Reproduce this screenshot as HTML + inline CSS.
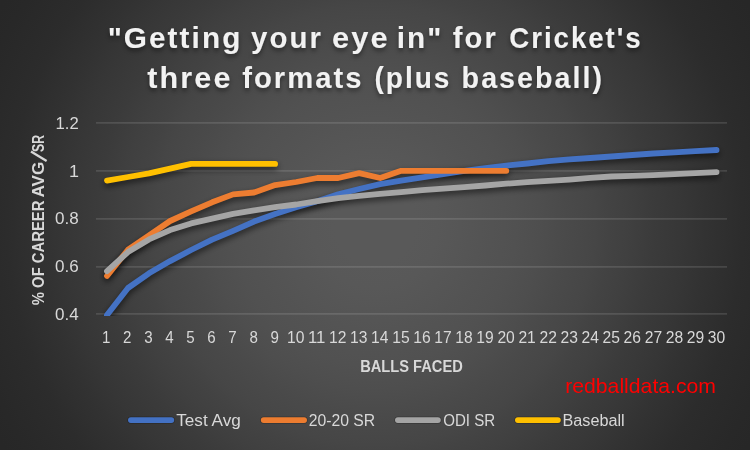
<!DOCTYPE html>
<html><head><meta charset="utf-8"><title>Getting your eye in</title>
<style>
html,body{margin:0;padding:0;background:#262626;}
body{width:750px;height:450px;overflow:hidden;font-family:"Liberation Sans",sans-serif;}
svg{display:block;font-family:"Liberation Sans",sans-serif;}
.ser{fill:none;stroke-linecap:round;stroke-linejoin:round;stroke-width:5.8;}
</style></head><body>
<svg width="750" height="450" viewBox="0 0 750 450">
<defs>
<radialGradient id="bg" gradientUnits="userSpaceOnUse" cx="375" cy="225" r="437.3">
<stop offset="0.0000" stop-color="#595959"/>
<stop offset="0.0915" stop-color="#595959"/>
<stop offset="0.1441" stop-color="#585858"/>
<stop offset="0.1944" stop-color="#565656"/>
<stop offset="0.2424" stop-color="#545454"/>
<stop offset="0.2676" stop-color="#535353"/>
<stop offset="0.3224" stop-color="#515151"/>
<stop offset="0.3773" stop-color="#4e4e4e"/>
<stop offset="0.4345" stop-color="#4a4a4a"/>
<stop offset="0.5031" stop-color="#464646"/>
<stop offset="0.5351" stop-color="#434343"/>
<stop offset="0.5786" stop-color="#404040"/>
<stop offset="0.6357" stop-color="#3b3b3b"/>
<stop offset="0.7089" stop-color="#363636"/>
<stop offset="0.7569" stop-color="#323232"/>
<stop offset="0.8004" stop-color="#2f2f2f"/>
<stop offset="0.8415" stop-color="#2c2c2c"/>
<stop offset="0.8918" stop-color="#2a2a2a"/>
<stop offset="0.9467" stop-color="#282828"/>
<stop offset="0.9902" stop-color="#272727"/>
<stop offset="1.0000" stop-color="#272727"/>
</radialGradient>
<filter id="sh" filterUnits="userSpaceOnUse" x="0" y="0" width="750" height="450"><feDropShadow dx="0" dy="3" stdDeviation="3" flood-color="#000" flood-opacity="0.6"/></filter>
<filter id="sho" filterUnits="userSpaceOnUse" x="0" y="0" width="750" height="450"><feGaussianBlur in="SourceAlpha" stdDeviation="3"/><feOffset dx="0" dy="3"/><feComponentTransfer><feFuncA type="linear" slope="0.6"/></feComponentTransfer></filter>
<filter id="tsh" filterUnits="userSpaceOnUse" x="0" y="0" width="750" height="450"><feDropShadow dx="0" dy="3" stdDeviation="2" flood-color="#000" flood-opacity="0.4"/></filter>
<clipPath id="plot"><rect x="0" y="0" width="750" height="316"/></clipPath>
</defs>
<rect width="750" height="450" fill="url(#bg)"/>

<line x1="96.0" x2="727.0" y1="122.90" y2="122.90" stroke="rgba(242,242,242,0.13)" stroke-width="1.6"/>
<line x1="96.0" x2="727.0" y1="170.90" y2="170.90" stroke="rgba(242,242,242,0.13)" stroke-width="1.6"/>
<line x1="96.0" x2="727.0" y1="218.90" y2="218.90" stroke="rgba(242,242,242,0.13)" stroke-width="1.6"/>
<line x1="96.0" x2="727.0" y1="266.90" y2="266.90" stroke="rgba(242,242,242,0.13)" stroke-width="1.6"/>
<line x1="96.0" x2="727.0" y1="313.90" y2="313.90" stroke="rgba(242,242,242,0.13)" stroke-width="1.6"/>
<g clip-path="url(#plot)">
<polyline class="ser" filter="url(#sho)" stroke="#000" points="107.0,315.0 128.0,288.0 149.0,273.3 170.1,261.1 191.1,250.0 212.1,239.6 233.1,230.8 254.1,221.6 275.1,214.1 296.2,207.3 317.2,201.2 338.2,194.2 359.2,189.0 380.2,184.2 401.2,180.6 422.3,177.3 443.3,174.1 464.3,170.8 485.3,168.1 506.3,165.6 527.3,163.5 548.4,161.2 569.4,159.4 590.4,158.0 611.4,156.5 632.4,155.0 653.4,153.5 674.5,152.3 695.5,151.2 716.5,150.0"/>
<polyline class="ser" filter="url(#sho)" stroke="#000" points="107.0,276.0 128.0,249.7 149.0,235.3 170.1,221.0 191.1,211.4 212.1,202.3 233.1,194.4 254.1,192.5 275.1,185.1 296.2,182.0 317.2,178.0 338.2,178.0 359.2,173.2 380.2,178.0 401.2,170.8 422.3,170.8 443.3,170.8 464.3,170.8 485.3,170.8 506.3,170.8"/>
<polyline class="ser" filter="url(#sho)" stroke="#000" points="107.0,271.2 128.0,252.1 149.0,239.4 170.1,230.1 191.1,223.4 212.1,218.6 233.1,213.9 254.1,210.4 275.1,207.1 296.2,204.5 317.2,201.2 338.2,198.2 359.2,195.9 380.2,193.9 401.2,192.2 422.3,190.2 443.3,188.6 464.3,187.1 485.3,185.5 506.3,183.7 527.3,182.2 548.4,180.9 569.4,179.6 590.4,177.9 611.4,176.5 632.4,175.8 653.4,175.1 674.5,174.1 695.5,173.2 716.5,172.2"/>
<polyline class="ser" filter="url(#sho)" stroke="#000" points="107.0,180.6 128.0,177.0 149.0,173.4 170.1,168.6 191.1,163.9 212.1,163.9 233.1,163.9 254.1,163.9 275.1,163.9"/>
<polyline class="ser" stroke="#4472c4" points="107.0,315.0 128.0,288.0 149.0,273.3 170.1,261.1 191.1,250.0 212.1,239.6 233.1,230.8 254.1,221.6 275.1,214.1 296.2,207.3 317.2,201.2 338.2,194.2 359.2,189.0 380.2,184.2 401.2,180.6 422.3,177.3 443.3,174.1 464.3,170.8 485.3,168.1 506.3,165.6 527.3,163.5 548.4,161.2 569.4,159.4 590.4,158.0 611.4,156.5 632.4,155.0 653.4,153.5 674.5,152.3 695.5,151.2 716.5,150.0"/>
<polyline class="ser" stroke="#ed7d31" points="107.0,276.0 128.0,249.7 149.0,235.3 170.1,221.0 191.1,211.4 212.1,202.3 233.1,194.4 254.1,192.5 275.1,185.1 296.2,182.0 317.2,178.0 338.2,178.0 359.2,173.2 380.2,178.0 401.2,170.8 422.3,170.8 443.3,170.8 464.3,170.8 485.3,170.8 506.3,170.8"/>
<polyline class="ser" stroke="#a5a5a5" points="107.0,271.2 128.0,252.1 149.0,239.4 170.1,230.1 191.1,223.4 212.1,218.6 233.1,213.9 254.1,210.4 275.1,207.1 296.2,204.5 317.2,201.2 338.2,198.2 359.2,195.9 380.2,193.9 401.2,192.2 422.3,190.2 443.3,188.6 464.3,187.1 485.3,185.5 506.3,183.7 527.3,182.2 548.4,180.9 569.4,179.6 590.4,177.9 611.4,176.5 632.4,175.8 653.4,175.1 674.5,174.1 695.5,173.2 716.5,172.2"/>
<polyline class="ser" stroke="#ffc000" points="107.0,180.6 128.0,177.0 149.0,173.4 170.1,168.6 191.1,163.9 212.1,163.9 233.1,163.9 254.1,163.9 275.1,163.9"/>
</g>
<g filter="url(#tsh)" fill="#f2f2f2" font-weight="bold" font-size="28.8px">
<text transform="translate(107.64,47.8) scale(1.0336,1)" style="letter-spacing:2.0px">&quot;Getting</text>
<text transform="translate(251.05,47.8) scale(1.0230,1)" style="letter-spacing:2.0px">your</text>
<text transform="translate(331.91,47.8) scale(1.0719,1)" style="letter-spacing:2.0px">eye</text>
<text transform="translate(396.76,47.8) scale(1.0337,1)" style="letter-spacing:2.0px">in&quot;</text>
<text transform="translate(452.84,47.8) scale(1.0128,1)" style="letter-spacing:2.0px">for</text>
<text transform="translate(509.26,47.8) scale(0.9631,1)" style="letter-spacing:2.0px">Cricket's</text>
<text transform="translate(147.15,87.7) scale(1.0625,1)" style="letter-spacing:2.0px">three</text>
<text transform="translate(242.24,87.7) scale(1.0149,1)" style="letter-spacing:2.0px">formats</text>
<text transform="translate(374.54,87.7) scale(0.9757,1)" style="letter-spacing:2.0px">(plus</text>
<text transform="translate(461.61,87.7) scale(0.9967,1)" style="letter-spacing:2.0px">baseball)</text>
</g>
<g style="will-change:transform" opacity="0.999">
<text x="55.6" y="128.7" font-size="16.2px" fill="#d9d9d9" textLength="23.2" lengthAdjust="spacingAndGlyphs">1.2</text>
<text x="69.0" y="177.0" font-size="16.2px" fill="#d9d9d9" textLength="10.0" lengthAdjust="spacingAndGlyphs">1</text>
<text x="55.1" y="223.9" font-size="16.2px" fill="#d9d9d9" textLength="23.7" lengthAdjust="spacingAndGlyphs">0.8</text>
<text x="55.1" y="271.9" font-size="16.2px" fill="#d9d9d9" textLength="23.7" lengthAdjust="spacingAndGlyphs">0.6</text>
<text x="55.1" y="319.9" font-size="16.2px" fill="#d9d9d9" textLength="23.7" lengthAdjust="spacingAndGlyphs">0.4</text>
<text x="102.1" y="342.8" font-size="16px" fill="#d9d9d9" textLength="8.4" lengthAdjust="spacingAndGlyphs">1</text>
<text x="123.1" y="342.8" font-size="16px" fill="#d9d9d9" textLength="8.4" lengthAdjust="spacingAndGlyphs">2</text>
<text x="144.2" y="342.8" font-size="16px" fill="#d9d9d9" textLength="8.4" lengthAdjust="spacingAndGlyphs">3</text>
<text x="165.2" y="342.8" font-size="16px" fill="#d9d9d9" textLength="8.4" lengthAdjust="spacingAndGlyphs">4</text>
<text x="186.3" y="342.8" font-size="16px" fill="#d9d9d9" textLength="8.4" lengthAdjust="spacingAndGlyphs">5</text>
<text x="207.3" y="342.8" font-size="16px" fill="#d9d9d9" textLength="8.4" lengthAdjust="spacingAndGlyphs">6</text>
<text x="228.3" y="342.8" font-size="16px" fill="#d9d9d9" textLength="8.4" lengthAdjust="spacingAndGlyphs">7</text>
<text x="249.4" y="342.8" font-size="16px" fill="#d9d9d9" textLength="8.4" lengthAdjust="spacingAndGlyphs">8</text>
<text x="270.4" y="342.8" font-size="16px" fill="#d9d9d9" textLength="8.4" lengthAdjust="spacingAndGlyphs">9</text>
<text x="287.0" y="342.8" font-size="16px" fill="#d9d9d9" textLength="17.4" lengthAdjust="spacingAndGlyphs">10</text>
<text x="308.0" y="342.8" font-size="16px" fill="#d9d9d9" textLength="17.4" lengthAdjust="spacingAndGlyphs">11</text>
<text x="329.1" y="342.8" font-size="16px" fill="#d9d9d9" textLength="17.4" lengthAdjust="spacingAndGlyphs">12</text>
<text x="350.1" y="342.8" font-size="16px" fill="#d9d9d9" textLength="17.4" lengthAdjust="spacingAndGlyphs">13</text>
<text x="371.1" y="342.8" font-size="16px" fill="#d9d9d9" textLength="17.4" lengthAdjust="spacingAndGlyphs">14</text>
<text x="392.2" y="342.8" font-size="16px" fill="#d9d9d9" textLength="17.4" lengthAdjust="spacingAndGlyphs">15</text>
<text x="413.2" y="342.8" font-size="16px" fill="#d9d9d9" textLength="17.4" lengthAdjust="spacingAndGlyphs">16</text>
<text x="434.3" y="342.8" font-size="16px" fill="#d9d9d9" textLength="17.4" lengthAdjust="spacingAndGlyphs">17</text>
<text x="455.3" y="342.8" font-size="16px" fill="#d9d9d9" textLength="17.4" lengthAdjust="spacingAndGlyphs">18</text>
<text x="476.3" y="342.8" font-size="16px" fill="#d9d9d9" textLength="17.4" lengthAdjust="spacingAndGlyphs">19</text>
<text x="497.4" y="342.8" font-size="16px" fill="#d9d9d9" textLength="17.4" lengthAdjust="spacingAndGlyphs">20</text>
<text x="518.4" y="342.8" font-size="16px" fill="#d9d9d9" textLength="17.4" lengthAdjust="spacingAndGlyphs">21</text>
<text x="539.5" y="342.8" font-size="16px" fill="#d9d9d9" textLength="17.4" lengthAdjust="spacingAndGlyphs">22</text>
<text x="560.5" y="342.8" font-size="16px" fill="#d9d9d9" textLength="17.4" lengthAdjust="spacingAndGlyphs">23</text>
<text x="581.6" y="342.8" font-size="16px" fill="#d9d9d9" textLength="17.4" lengthAdjust="spacingAndGlyphs">24</text>
<text x="602.6" y="342.8" font-size="16px" fill="#d9d9d9" textLength="17.4" lengthAdjust="spacingAndGlyphs">25</text>
<text x="623.6" y="342.8" font-size="16px" fill="#d9d9d9" textLength="17.4" lengthAdjust="spacingAndGlyphs">26</text>
<text x="644.7" y="342.8" font-size="16px" fill="#d9d9d9" textLength="17.4" lengthAdjust="spacingAndGlyphs">27</text>
<text x="665.7" y="342.8" font-size="16px" fill="#d9d9d9" textLength="17.4" lengthAdjust="spacingAndGlyphs">28</text>
<text x="686.8" y="342.8" font-size="16px" fill="#d9d9d9" textLength="17.4" lengthAdjust="spacingAndGlyphs">29</text>
<text x="707.8" y="342.8" font-size="16px" fill="#d9d9d9" textLength="17.4" lengthAdjust="spacingAndGlyphs">30</text>
<text x="360.2" y="371.6" font-size="16px" font-weight="bold" fill="#d9d9d9" textLength="102.6" lengthAdjust="spacingAndGlyphs">BALLS FACED</text>
<g font-size="16px" font-weight="bold" fill="#d9d9d9">
<text transform="translate(44.3,305.2) rotate(-90)" textLength="104.6" lengthAdjust="spacingAndGlyphs">% OF CAREER</text>
<text transform="translate(44.3,197.6) rotate(-90)" textLength="35.8" lengthAdjust="spacingAndGlyphs">AVG</text>
<line x1="46.6" y1="161.1" x2="31.0" y2="151.5" stroke="#d9d9d9" stroke-width="2.3"/>
<text transform="translate(44.3,152.0) rotate(-90)" textLength="17.0" lengthAdjust="spacingAndGlyphs">SR</text>
</g>
<text x="565.2" y="392.8" font-size="21px" fill="#ff0000" textLength="150.8" lengthAdjust="spacingAndGlyphs">redballdata.com</text>
<line class="ser" stroke="#000" stroke-opacity="0.24" style="stroke-width:7.2" x1="130.9" x2="171.3" y1="420.2" y2="420.2"/>
<line class="ser" stroke="#4472c4" x1="130.9" x2="171.3" y1="420.1" y2="420.1"/>
<text x="176.2" y="425.8" font-size="16px" fill="#d9d9d9" textLength="64.6" lengthAdjust="spacingAndGlyphs">Test Avg</text>
<line class="ser" stroke="#000" stroke-opacity="0.24" style="stroke-width:7.2" x1="263.7" x2="304.1" y1="420.2" y2="420.2"/>
<line class="ser" stroke="#ed7d31" x1="263.7" x2="304.1" y1="420.1" y2="420.1"/>
<text x="308.7" y="425.8" font-size="16px" fill="#d9d9d9" textLength="66.5" lengthAdjust="spacingAndGlyphs">20-20 SR</text>
<line class="ser" stroke="#000" stroke-opacity="0.24" style="stroke-width:7.2" x1="397.9" x2="437.9" y1="420.2" y2="420.2"/>
<line class="ser" stroke="#a5a5a5" x1="397.9" x2="437.9" y1="420.1" y2="420.1"/>
<text x="443.2" y="425.8" font-size="16px" fill="#d9d9d9" textLength="52.0" lengthAdjust="spacingAndGlyphs">ODI SR</text>
<line class="ser" stroke="#000" stroke-opacity="0.24" style="stroke-width:7.2" x1="517.9" x2="557.9" y1="420.2" y2="420.2"/>
<line class="ser" stroke="#ffc000" x1="517.9" x2="557.9" y1="420.1" y2="420.1"/>
<text x="562.5" y="425.8" font-size="16px" fill="#d9d9d9" textLength="62.2" lengthAdjust="spacingAndGlyphs">Baseball</text>
</g>
</svg></body></html>
